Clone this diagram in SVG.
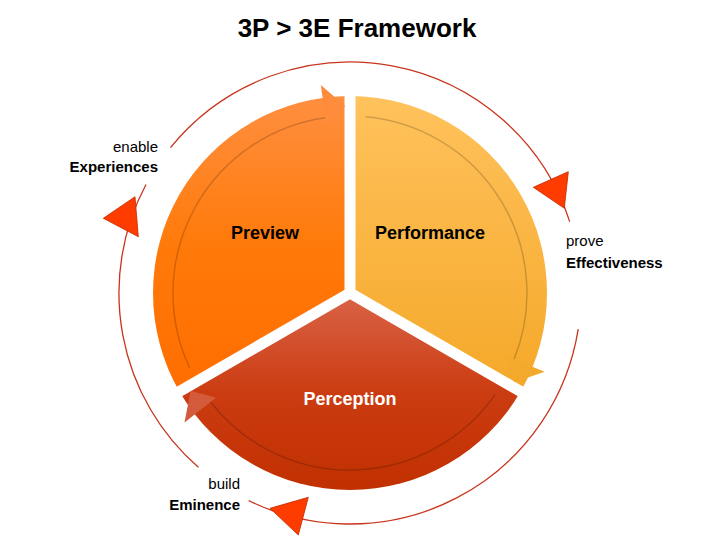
<svg xmlns="http://www.w3.org/2000/svg" width="723" height="546" viewBox="0 0 723 546">
<style>
text{font-family:"Liberation Sans",Arial,sans-serif;}
.lbl{font-size:18px;font-weight:bold;text-anchor:middle;}
.sm{font-size:15px;}
.b{font-weight:bold;}
.inner{fill:none;stroke:#000;stroke-opacity:0.18;stroke-width:1.5;}
.tri{fill:#ff3c00;stroke:#c02a00;stroke-width:0.8;}
.ring{fill:none;stroke:#c8351c;stroke-width:1.3;}
</style>
<defs>
<linearGradient id="gPrev" x1="0" y1="0" x2="0" y2="1"><stop offset="0" stop-color="#ff8f40"/><stop offset="0.5" stop-color="#ff7a0a"/><stop offset="1" stop-color="#ff6d00"/></linearGradient>
<linearGradient id="gPerf" x1="0" y1="0" x2="0" y2="1"><stop offset="0" stop-color="#ffc25c"/><stop offset="1" stop-color="#f5a829"/></linearGradient>
<linearGradient id="gPerc" x1="0" y1="0" x2="0" y2="1"><stop offset="0" stop-color="#d96448"/><stop offset="0.5" stop-color="#cc3c12"/><stop offset="1" stop-color="#c03000"/></linearGradient>
</defs>
<rect width="723" height="546" fill="#fff"/>
<text x="357" y="37" style="font-size:26px;font-weight:bold;text-anchor:middle">3P &gt; 3E Framework</text>
<g id="connectors">
<path class="ring" d="M578.2,329.1 A231,231 0 0 1 248.7,500.6"/>
<path class="ring" d="M198.4,467.3 A231,231 0 0 1 146.0,184.5"/>
<path class="ring" d="M170.5,147.6 A231,231 0 0 1 569.7,221.6"/>
<polygon class="tri" points="103.3,218.3 135,196.7 138.3,236.7"/>
<polygon class="tri" points="533.3,187.3 568.3,171.7 564.3,208.3"/>
<polygon class="tri" points="270,508.3 308.3,497.3 298.3,535"/>
</g>
<g id="preview">
<path d="M350,293 L179.4,391.5 A197,197 0 0 1 350,96 Z" fill="url(#gPrev)"/>
<path class="inner" d="M189.6,367.8 A177,177 0 0 1 325.4,117.7"/>
</g>
<g id="performance">
<path d="M350,293 L350,96 A197,197 0 0 1 520.6,391.5 Z" fill="url(#gPerf)"/>
<path class="inner" d="M365.4,116.7 A177,177 0 0 1 514.1,359.3"/>
</g>
<g id="perception">
<path d="M350,293 L520.6,391.5 A197,197 0 0 1 179.4,391.5 Z" fill="url(#gPerc)"/>
<path class="inner" d="M495,394.6 A177,177 0 0 1 210.5,402"/>
</g>
<g id="gaps" stroke="#fff" stroke-width="11">
<line x1="350" y1="293" x2="536.2" y2="400.5"/>
<line x1="350" y1="293" x2="163.8" y2="400.5"/>
<line x1="350" y1="293" x2="350" y2="78"/>
</g>
<g id="arrows">
<polygon points="320.8,85 345.1,106.1 326.4,124.7" fill="#ff8c3c"/>
<polygon points="544.7,371.7 514.3,382.2 507.6,356.7" fill="#f3aa2c"/>
<polygon points="184.5,422.4 190.6,390.7 216,397.7" fill="#d35a3a"/>
</g>
<g id="labels">
<text class="lbl" x="265" y="239">Preview</text>
<text class="lbl" x="430" y="239">Performance</text>
<text class="lbl" x="350" y="405" fill="#fff">Perception</text>
<text class="sm" x="158" y="152" text-anchor="end">enable</text>
<text class="sm b" x="158" y="172" text-anchor="end">Experiences</text>
<text class="sm" x="566" y="246">prove</text>
<text class="sm b" x="566" y="268">Effectiveness</text>
<text class="sm" x="240" y="489" text-anchor="end">build</text>
<text class="sm b" x="240" y="510" text-anchor="end">Eminence</text>
</g>
</svg>
